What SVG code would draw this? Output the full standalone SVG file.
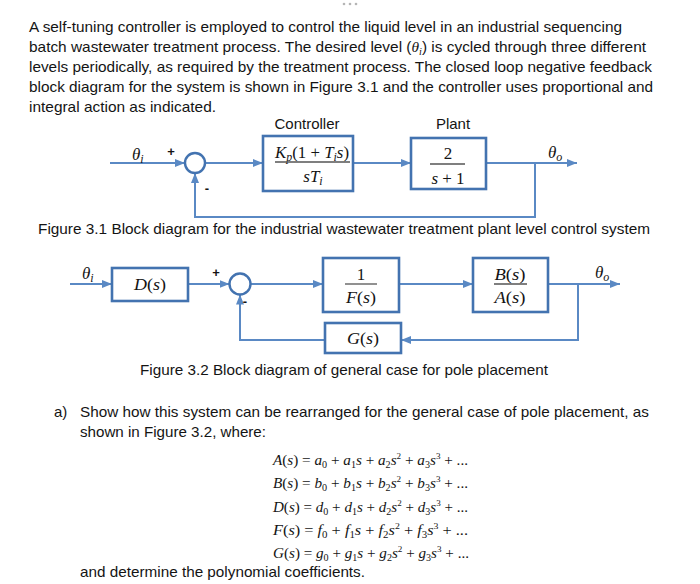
<svg xmlns="http://www.w3.org/2000/svg" width="700" height="584" viewBox="0 0 700 584">
<style>
.t{font-family:"Liberation Sans",Arial,sans-serif;font-size:15px;fill:#141414}
.m{font-family:"Liberation Serif","Times New Roman",serif;font-size:15px;fill:#141414}
.b{font-family:"Liberation Serif","Times New Roman",serif;font-size:17px;fill:#141414}
.i{font-style:italic}
.sb{font-size:10px}
.bs{font-size:12px}
.sp{font-size:9px}
.ln{fill:none;stroke:#5a89c4;stroke-width:2}
.bx{fill:#fff;stroke:#4373b0;stroke-width:2.6}
.fr{stroke:#555;stroke-width:1.3}
.sum{fill:#fff;stroke:#4373b0;stroke-width:2.4}
.sg{font-family:"Liberation Sans",Arial,sans-serif;font-size:13px;font-weight:bold;fill:#141414}
</style>
<defs>
<marker id="ah" markerUnits="userSpaceOnUse" markerWidth="10" markerHeight="10" viewBox="0 0 10 10" refX="10" refY="5" orient="auto">
<path d="M0,1 L10,5 L0,9 Z" fill="#5a89c4"/>
</marker>
</defs>
<rect width="700" height="584" fill="#fff"/>
<g id="dots" fill="#b5b5b5"><circle cx="344" cy="4" r="1.3"/><circle cx="350" cy="4" r="1.3"/><circle cx="356" cy="4" r="1.3"/></g>
<g id="paragraph">
<text class="t" x="29" y="32" textLength="593" lengthAdjust="spacingAndGlyphs">A self-tuning controller is employed to control the liquid level in an industrial sequencing</text>
<text class="t" x="29" y="52" textLength="617" lengthAdjust="spacingAndGlyphs">batch wastewater treatment process. The desired level (<tspan class="m i">θ</tspan><tspan class="m i sb" dy="3">i</tspan><tspan dy="-3">) is cycled through three different</tspan></text>
<text class="t" x="29" y="72" textLength="623" lengthAdjust="spacingAndGlyphs">levels periodically, as required by the treatment process. The closed loop negative feedback</text>
<text class="t" x="29" y="92" textLength="624" lengthAdjust="spacingAndGlyphs">block diagram for the system is shown in Figure 3.1 and the controller uses proportional and</text>
<text class="t" x="29" y="112" textLength="187" lengthAdjust="spacingAndGlyphs">integral action as indicated.</text>
</g>
<g id="fig31">
<g id="connectors31">
<line class="ln" x1="110" y1="163" x2="185" y2="163" marker-end="url(#ah)"/>
<line class="ln" x1="205" y1="163" x2="263" y2="163" marker-end="url(#ah)"/>
<line class="ln" x1="353" y1="163" x2="411" y2="163" marker-end="url(#ah)"/>
<line class="ln" x1="486" y1="163" x2="577" y2="163" marker-end="url(#ah)"/>
<polyline class="ln" points="535,163 535,217 195,217 195,173" marker-end="url(#ah)"/>
</g>
<g id="sum31"><circle class="sum" cx="195" cy="163" r="10"/></g>
<text class="b i" x="132" y="160">θ<tspan class="bs" dy="3">i</tspan></text>
<text class="sg" x="171" y="156" text-anchor="middle">+</text>
<text class="sg" x="207" y="193" text-anchor="middle">-</text>
<g id="controller">
<text class="t" x="307" y="129" text-anchor="middle">Controller</text>
<rect class="bx" x="263" y="136" width="90" height="55"/>
<text class="b" x="312" y="158" text-anchor="middle" textLength="74" lengthAdjust="spacingAndGlyphs"><tspan class="i">K</tspan><tspan class="i bs" dy="3">p</tspan><tspan dy="-3">(1 + </tspan><tspan class="i">T</tspan><tspan class="i bs" dy="3">i</tspan><tspan class="i" dy="-3">s</tspan>)</text>
<line class="fr" x1="275" y1="162" x2="350" y2="162"/>
<text class="b" x="313" y="182" text-anchor="middle"><tspan class="i">sT</tspan><tspan class="i bs" dy="3">i</tspan></text>
</g>
<g id="plant">
<text class="t" x="453" y="129" text-anchor="middle">Plant</text>
<rect class="bx" x="411" y="138" width="75" height="51"/>
<text class="b" x="448" y="159" text-anchor="middle">2</text>
<line class="fr" x1="430" y1="164" x2="465" y2="164"/>
<text class="b" x="448" y="184" text-anchor="middle"><tspan class="i">s</tspan> + 1</text>
</g>
<text class="b i" x="548" y="158">θ<tspan class="bs" dy="3">o</tspan></text>
<text class="t" x="38" y="234" textLength="612" lengthAdjust="spacingAndGlyphs">Figure 3.1 Block diagram for the industrial wastewater treatment plant level control system</text>
</g>
<g id="fig32">
<g id="connectors32">
<line class="ln" x1="70" y1="284" x2="112" y2="284" marker-end="url(#ah)"/>
<line class="ln" x1="188" y1="284" x2="229.5" y2="284" marker-end="url(#ah)"/>
<line class="ln" x1="250.5" y1="284" x2="323" y2="284" marker-end="url(#ah)"/>
<line class="ln" x1="399" y1="284" x2="473" y2="284" marker-end="url(#ah)"/>
<line class="ln" x1="548" y1="284" x2="620" y2="284" marker-end="url(#ah)"/>
<polyline class="ln" points="578,284 578,340 401,340" marker-end="url(#ah)"/>
<polyline class="ln" points="325,340 240,340 240,294.5" marker-end="url(#ah)"/>
</g>
<text class="b i" x="82" y="279">θ<tspan class="bs" dy="3">i</tspan></text>
<g id="D"><rect class="bx" x="112" y="268" width="76" height="33"/>
<text class="b" x="150" y="290" text-anchor="middle" textLength="32" lengthAdjust="spacingAndGlyphs"><tspan class="i">D</tspan>(<tspan class="i">s</tspan>)</text></g>
<text class="sg" x="216" y="277" text-anchor="middle">+</text>
<g id="sum32"><circle class="sum" cx="240" cy="284" r="10.5"/></g>
<text class="sg" x="245" y="306" text-anchor="middle">-</text>
<g id="F"><rect class="bx" x="323" y="258" width="76" height="54"/>
<text class="b" x="361" y="280" text-anchor="middle">1</text>
<line class="fr" x1="345" y1="284" x2="377" y2="284"/>
<text class="b" x="361" y="303" text-anchor="middle" textLength="30" lengthAdjust="spacingAndGlyphs"><tspan class="i">F</tspan>(<tspan class="i">s</tspan>)</text></g>
<g id="BA"><rect class="bx" x="473" y="258" width="75" height="54"/>
<text class="b" x="510" y="280" text-anchor="middle" textLength="31" lengthAdjust="spacingAndGlyphs"><tspan class="i">B</tspan>(<tspan class="i">s</tspan>)</text>
<line class="fr" x1="494" y1="284" x2="527" y2="284"/>
<text class="b" x="510" y="303" text-anchor="middle" textLength="31" lengthAdjust="spacingAndGlyphs"><tspan class="i">A</tspan>(<tspan class="i">s</tspan>)</text></g>
<g id="G"><rect class="bx" x="325" y="323" width="76" height="30"/>
<text class="b" x="363" y="344" text-anchor="middle" textLength="32" lengthAdjust="spacingAndGlyphs"><tspan class="i">G</tspan>(<tspan class="i">s</tspan>)</text></g>
<text class="b i" x="595" y="278">θ<tspan class="bs" dy="3">o</tspan></text>
<text class="t" x="140" y="375" textLength="408" lengthAdjust="spacingAndGlyphs">Figure 3.2 Block diagram of general case for pole placement</text>
</g>
<g id="question">
<text class="t" x="54" y="417">a)</text>
<text class="t" x="80" y="417" textLength="569" lengthAdjust="spacingAndGlyphs">Show how this system can be rearranged for the general case of pole placement, as</text>
<text class="t" x="80" y="437" textLength="186" lengthAdjust="spacingAndGlyphs">shown in Figure 3.2, where:</text>
<text class="m" x="273" y="465" textLength="195" lengthAdjust="spacingAndGlyphs"><tspan class="i">A</tspan>(<tspan class="i">s</tspan>) = <tspan class="i">a</tspan><tspan class="sb" dy="3">0</tspan><tspan dy="-3"> + </tspan><tspan class="i">a</tspan><tspan class="sb" dy="3">1</tspan><tspan class="i" dy="-3">s</tspan> + <tspan class="i">a</tspan><tspan class="sb" dy="3">2</tspan><tspan class="i" dy="-3">s</tspan><tspan class="sp" dy="-6">2</tspan><tspan dy="6"> + </tspan><tspan class="i">a</tspan><tspan class="sb" dy="3">3</tspan><tspan class="i" dy="-3">s</tspan><tspan class="sp" dy="-6">3</tspan><tspan dy="6"> + ...</tspan></text>
<text class="m" x="273" y="488" textLength="195" lengthAdjust="spacingAndGlyphs"><tspan class="i">B</tspan>(<tspan class="i">s</tspan>) = <tspan class="i">b</tspan><tspan class="sb" dy="3">0</tspan><tspan dy="-3"> + </tspan><tspan class="i">b</tspan><tspan class="sb" dy="3">1</tspan><tspan class="i" dy="-3">s</tspan> + <tspan class="i">b</tspan><tspan class="sb" dy="3">2</tspan><tspan class="i" dy="-3">s</tspan><tspan class="sp" dy="-6">2</tspan><tspan dy="6"> + </tspan><tspan class="i">b</tspan><tspan class="sb" dy="3">3</tspan><tspan class="i" dy="-3">s</tspan><tspan class="sp" dy="-6">3</tspan><tspan dy="6"> + ...</tspan></text>
<text class="m" x="273" y="512" textLength="195" lengthAdjust="spacingAndGlyphs"><tspan class="i">D</tspan>(<tspan class="i">s</tspan>) = <tspan class="i">d</tspan><tspan class="sb" dy="3">0</tspan><tspan dy="-3"> + </tspan><tspan class="i">d</tspan><tspan class="sb" dy="3">1</tspan><tspan class="i" dy="-3">s</tspan> + <tspan class="i">d</tspan><tspan class="sb" dy="3">2</tspan><tspan class="i" dy="-3">s</tspan><tspan class="sp" dy="-6">2</tspan><tspan dy="6"> + </tspan><tspan class="i">d</tspan><tspan class="sb" dy="3">3</tspan><tspan class="i" dy="-3">s</tspan><tspan class="sp" dy="-6">3</tspan><tspan dy="6"> + ...</tspan></text>
<text class="m" x="273" y="535" textLength="195" lengthAdjust="spacingAndGlyphs"><tspan class="i">F</tspan>(<tspan class="i">s</tspan>) = <tspan class="i">f</tspan><tspan class="sb" dy="3">0</tspan><tspan dy="-3"> + </tspan><tspan class="i">f</tspan><tspan class="sb" dy="3">1</tspan><tspan class="i" dy="-3">s</tspan> + <tspan class="i">f</tspan><tspan class="sb" dy="3">2</tspan><tspan class="i" dy="-3">s</tspan><tspan class="sp" dy="-6">2</tspan><tspan dy="6"> + </tspan><tspan class="i">f</tspan><tspan class="sb" dy="3">3</tspan><tspan class="i" dy="-3">s</tspan><tspan class="sp" dy="-6">3</tspan><tspan dy="6"> + ...</tspan></text>
<text class="m" x="273" y="558" textLength="196" lengthAdjust="spacingAndGlyphs"><tspan class="i">G</tspan>(<tspan class="i">s</tspan>) = <tspan class="i">g</tspan><tspan class="sb" dy="3">0</tspan><tspan dy="-3"> + </tspan><tspan class="i">g</tspan><tspan class="sb" dy="3">1</tspan><tspan class="i" dy="-3">s</tspan> + <tspan class="i">g</tspan><tspan class="sb" dy="3">2</tspan><tspan class="i" dy="-3">s</tspan><tspan class="sp" dy="-6">2</tspan><tspan dy="6"> + </tspan><tspan class="i">g</tspan><tspan class="sb" dy="3">3</tspan><tspan class="i" dy="-3">s</tspan><tspan class="sp" dy="-6">3</tspan><tspan dy="6"> + ...</tspan></text>
<text class="t" x="80" y="577" textLength="285" lengthAdjust="spacingAndGlyphs">and determine the polynomial coefficients.</text>
</g>
</svg>
